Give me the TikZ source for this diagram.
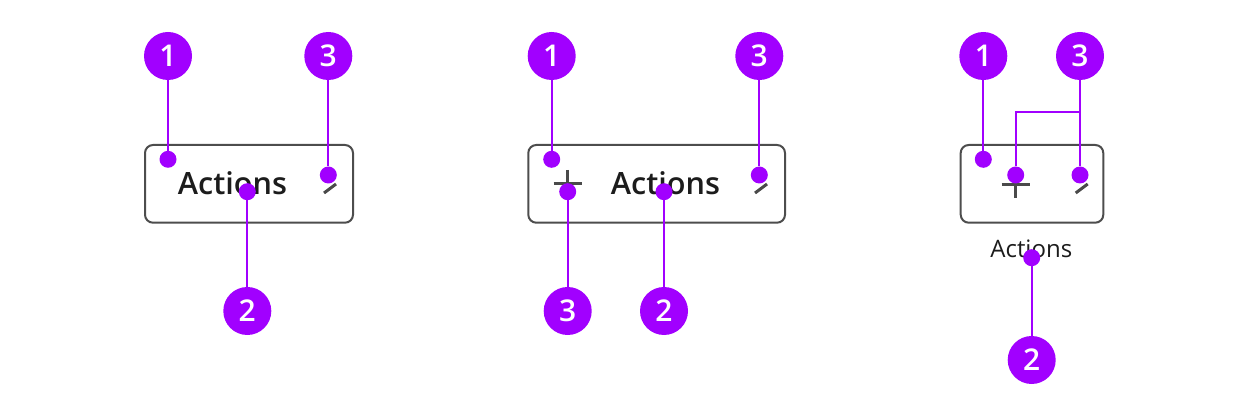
\documentclass[tikz,border=0pt]{standalone}
\usepackage{fontspec}
\setmainfont{Open Sans}
\IfFontExistsTF{Open Sans SemiBold}{\newfontfamily\semifont{Open Sans SemiBold}}{%
  \IfFontExistsTF{Open Sans Semibold}{\newfontfamily\semifont{Open Sans Semibold}}{%
    \newcommand\semifont{\bfseries}}}
\IfFontExistsTF{Open Sans Medium}{\newfontfamily\medfont{Open Sans Medium}}{%
  \newcommand\medfont{\semifont}}
\definecolor{purp}{HTML}{A100FF}
\definecolor{boxgray}{HTML}{4D4D4D}
\definecolor{icongray}{HTML}{4A4A4A}
\definecolor{txt}{HTML}{1C1C1C}
\begin{document}
\begin{tikzpicture}[x=0.75pt,y=-0.75pt,
  badge/.style={circle,fill=purp,text=white,inner sep=0pt,minimum size=36pt,font=\semifont\fontsize{22.5}{26}\selectfont},
  dotnode/.style={circle,fill=purp,inner sep=0pt,minimum size=12.75pt},
  conn/.style={draw=purp,line width=1.5pt},
  frame/.style={draw=boxgray,line width=1.5pt,rounded corners=6pt},
  icon/.style={draw=icongray,line width=2.25pt},
  lbl/.style={text=txt,inner sep=0pt,anchor=base}]
\useasboundingbox (0,0) rectangle (1248,416);
% ---------- panel 1 ----------
\draw[frame] (145,145) rectangle (353,222.7);
\node[lbl,font=\medfont\fontsize{23}{26}\selectfont] (t1) at (232.5,194.5) {Actions};
\draw[icon] (324,193) -- (336,184);
\node[badge] (b1a) at (168,56) {1};
\node[badge] (b3a) at (328.3,56) {3};
\node[badge] (b2a) at (247.3,311) {2};
\node[dotnode] (d1a) at (168,159.3) {};
\node[dotnode] (d3a) at (328.3,175) {};
\node[dotnode] (d2a) at (247.3,191.7) {};
\draw[conn] (b1a) -- (d1a);
\draw[conn] (b3a) -- (d3a);
\draw[conn] (b2a) -- (d2a);
% ---------- panel 2 ----------
\draw[frame] (528.3,145) rectangle (785,222.7);
\node[lbl,font=\medfont\fontsize{23}{26}\selectfont] (t2) at (665.5,194.5) {Actions};
\draw[icon] (553.7,184) -- (581.7,184);
\draw[icon] (567.7,170) -- (567.7,198);
\draw[icon] (755,193) -- (767,184);
\node[badge] (b1b) at (551.7,56) {1};
\node[badge] (b3b) at (759.3,56) {3};
\node[badge] (b3c) at (567.7,311) {3};
\node[badge] (b2b) at (664,311) {2};
\node[dotnode] (d1b) at (551.7,159.3) {};
\node[dotnode] (d3b) at (759.3,175) {};
\node[dotnode] (dpb) at (567.7,191.7) {};
\node[dotnode] (d2b) at (664,191.7) {};
\draw[conn] (b1b) -- (d1b);
\draw[conn] (b3b) -- (d3b);
\draw[conn] (b3c) -- (dpb);
\draw[conn] (b2b) -- (d2b);
% ---------- panel 3 ----------
\draw[frame] (960.7,145) rectangle (1103.3,222.7);
\node[lbl,font=\fontsize{18}{21}\selectfont] (t3) at (1031.3,258) {Actions};
\draw[icon] (1001.7,184.3) -- (1030,184.3);
\draw[icon] (1015.7,172) -- (1015.7,198.3);
\draw[icon] (1075.7,193) -- (1087.7,184);
\node[badge] (b1c) at (983.3,56) {1};
\node[badge] (b3d) at (1080,56) {3};
\node[badge] (b2c) at (1031.7,360) {2};
\coordinate (br) at (1080,111.7);
\node[dotnode] (d1c) at (983.3,159.3) {};
\node[dotnode] (dpc) at (1015.7,175) {};
\node[dotnode] (d3c) at (1080,175) {};
\node[dotnode] (d2c) at (1031.7,257.7) {};
\draw[conn] (b1c) -- (d1c);
\draw[conn] (b3d) -- (d3c);
\draw[conn] (br) -| (dpc);
\draw[conn] (b2c) -- (d2c);
\end{tikzpicture}
\end{document}
